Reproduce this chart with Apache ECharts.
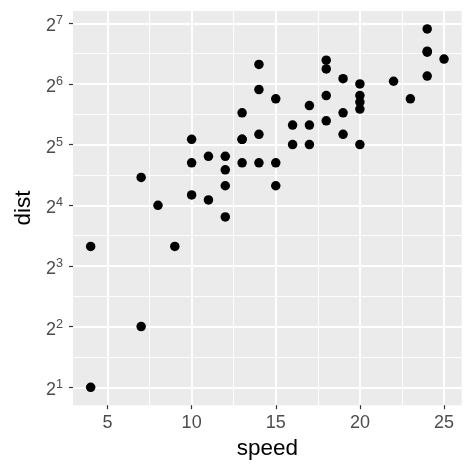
<!DOCTYPE html>
<html>
<head>
<meta charset="utf-8">
<script src="https://cdn.jsdelivr.net/npm/echarts@6/dist/echarts.min.js"></script>
<style>
html,body{margin:0;padding:0;background:#fff;}
#chart{width:474px;height:474px;}
</style>
</head>
<body>
<div id="chart"></div>
<script>
// cars dataset
var speed = [4,4,7,7,8,9,10,10,10,11,11,12,12,12,12,13,13,13,13,14,14,14,14,15,15,15,16,16,17,17,17,18,18,18,18,19,19,19,20,20,20,20,20,22,23,24,24,24,24,25];
var dist  = [2,10,4,22,16,10,18,26,34,17,28,14,20,24,28,26,34,34,46,26,36,60,80,20,26,54,32,40,32,40,50,42,56,76,84,36,46,68,32,48,52,56,64,66,54,70,92,93,120,85];

var xBreaks = [5,10,15,20,25];
var xMinorBreaks = [7.5,12.5,17.5,22.5];
var yBreaks = [2,4,8,16,32,64,128];
var yMinorExponents = [1.5,2.5,3.5,4.5,5.5,6.5];

var xMin = 2.95, xMax = 26.05;
var yMin = Math.pow(2, 0.7047), yMax = Math.pow(2, 7.2022);

var points = speed.map(function(s,i){ return [s, dist[i]]; });
var minorLines = xMinorBreaks.map(function(v){ return {xAxis: v}; })
  .concat(yMinorExponents.map(function(e){ return {yAxis: Math.pow(2, e)}; }));

var chart = echarts.init(document.getElementById('chart'), null, {renderer:'canvas'});
var font = 'Liberation Sans, Arial, Helvetica, sans-serif';
chart.setOption({
  animation: false,
  backgroundColor: '#ffffff',
  grid: {left: 73, right: 12.3, top: 11, bottom: 68.8, show: true, backgroundColor: '#EBEBEB', borderWidth: 0},
  xAxis: {
    type: 'value', min: xMin, max: xMax,
    name: 'speed', nameLocation: 'middle', nameGap: 32,
    nameTextStyle: {fontFamily: font, fontSize: 22.5, color: '#000'},
    axisLine: {show: false},
    axisTick: {show: true, customValues: xBreaks, length: 4, lineStyle: {color: '#333333', width: 1.2}},
    axisLabel: {customValues: xBreaks, margin: 9, fontFamily: font, fontSize: 18, color: '#4D4D4D'},
    splitLine: {show: true, lineStyle: {color: '#ffffff', width: 1.9}}
  },
  yAxis: {
    type: 'log', logBase: 2, min: yMin, max: yMax,
    name: 'dist', nameLocation: 'middle', nameGap: 36,
    nameTextStyle: {fontFamily: font, fontSize: 22.5, color: '#000'},
    axisLine: {show: false},
    axisTick: {show: true, customValues: yBreaks, length: 4, lineStyle: {color: '#333333', width: 1.2}},
    axisLabel: {
      customValues: yBreaks, margin: 10, padding: [6, 0, 0, 0],
      formatter: function(v){ return '{b|2}{s|' + Math.round(Math.log2(v)) + '}'; },
      rich: {
        b: {fontFamily: font, fontSize: 18, color: '#4D4D4D', lineHeight: 24},
        s: {fontFamily: font, fontSize: 12.6, color: '#4D4D4D', verticalAlign: 'top', lineHeight: 12}
      }
    },
    splitLine: {show: true, lineStyle: {color: '#ffffff', width: 1.9}}
  },
  series: [
    {
      type: 'scatter', data: [], z: 1, silent: true,
      markLine: {
        z: 1, silent: true, symbol: ['none','none'], animation: false,
        label: {show: false},
        lineStyle: {color: '#ffffff', width: 0.95, type: 'solid'},
        emphasis: {disabled: true},
        data: minorLines
      }
    },
    {
      type: 'scatter', data: points, z: 3,
      symbol: 'circle', symbolSize: 9.5,
      itemStyle: {color: '#000000', opacity: 1}
    }
  ]
});
</script>
</body>
</html>
